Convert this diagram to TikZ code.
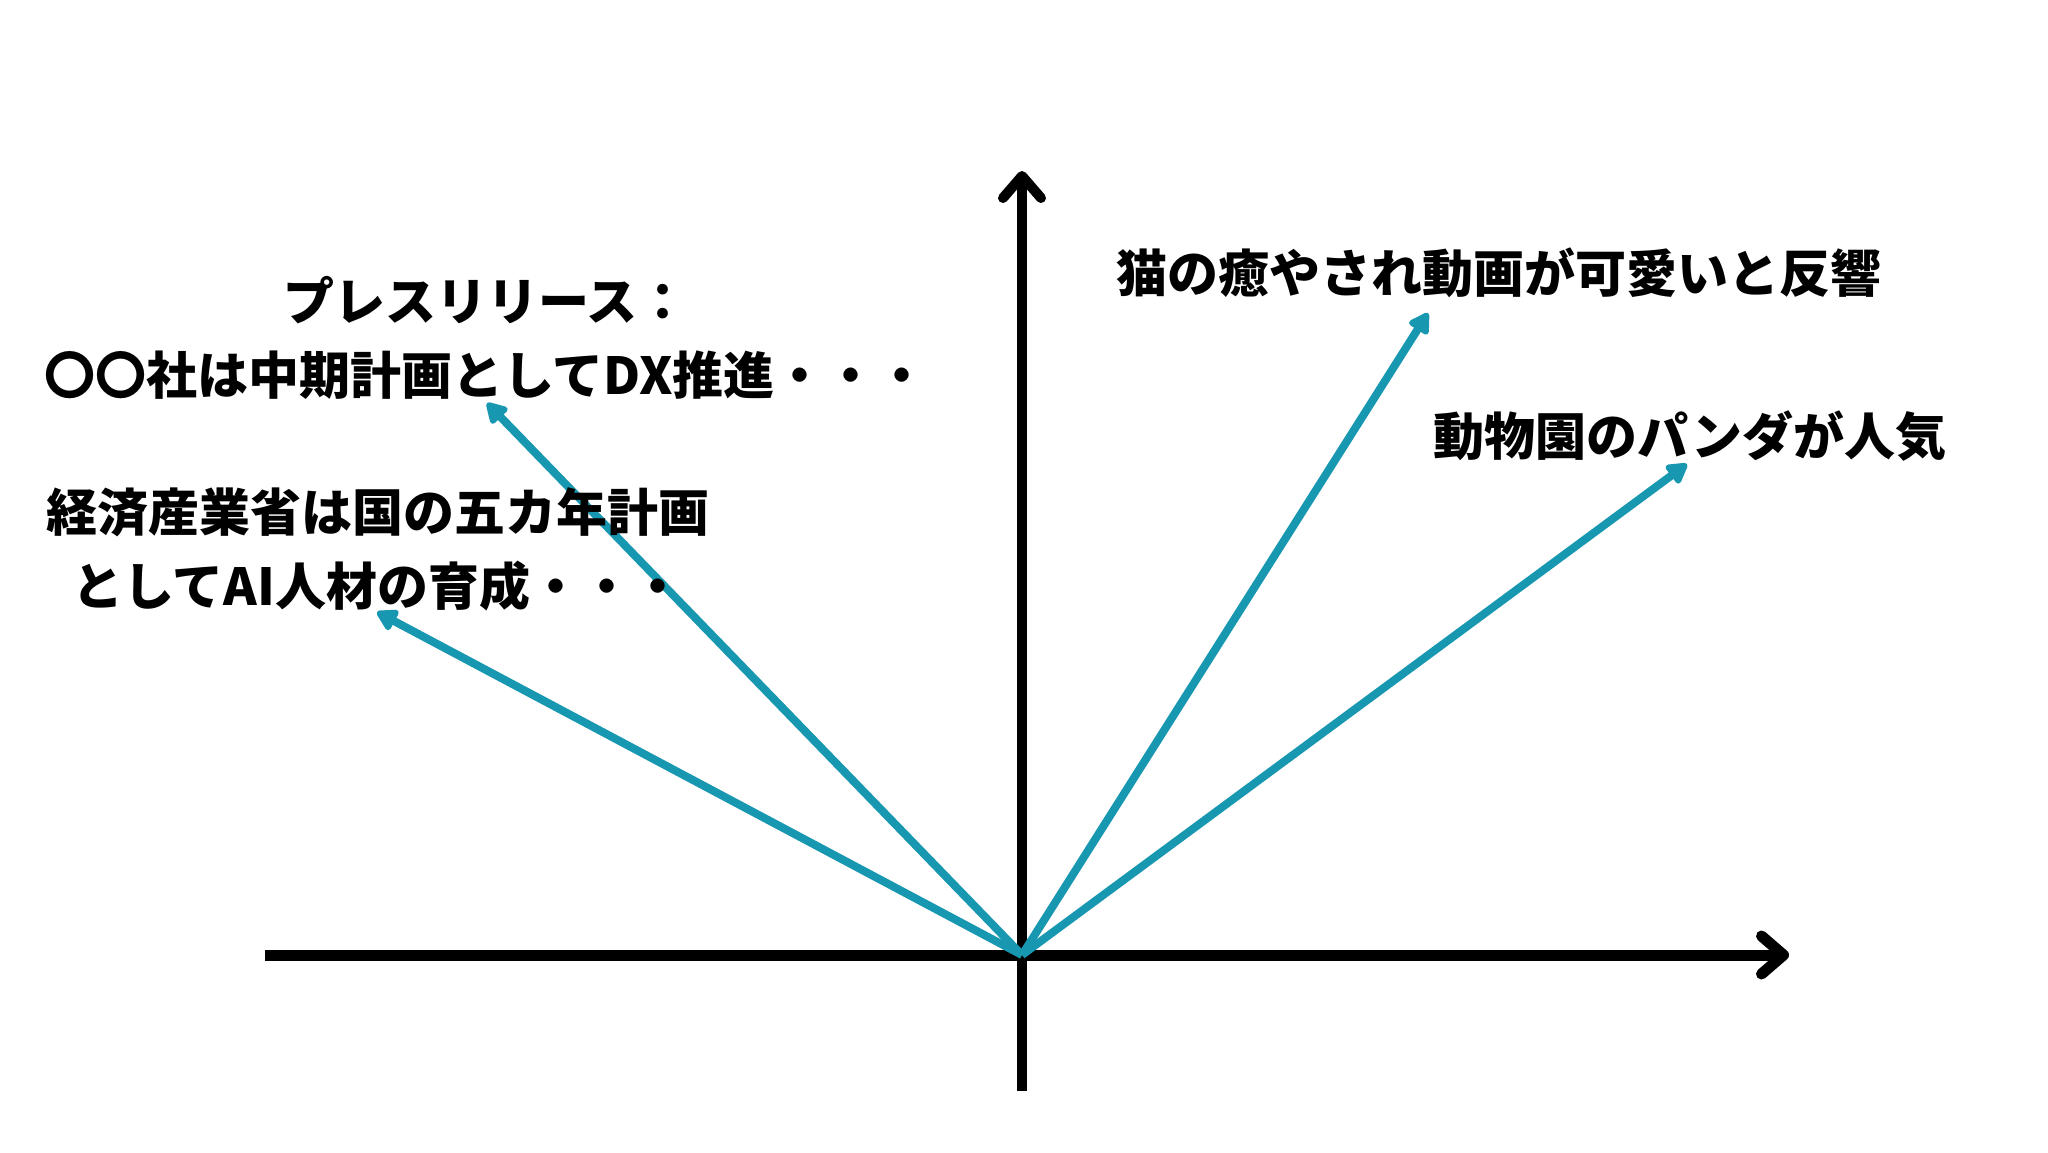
\documentclass[tikz,border=0pt]{standalone}
\usepackage{fontspec}
\setmainfont{Noto Sans CJK JP}
\usetikzlibrary{arrows.meta}
\definecolor{teal1}{RGB}{24,152,176}
\tikzset{
  axis/.style={draw=black, line width=11pt, line cap=round,
    -{Straight Barb[length=22pt,width=38pt,round]}},
  vec/.style={draw=teal1, line width=8pt,
    -{Triangle[length=23pt,width=25pt,round]}},
  lbl/.style={font=\fontsize{51}{74}\selectfont\bfseries, align=center, inner sep=0pt, text=black}
}
\begin{document}
\begin{tikzpicture}[x=1pt,y=-1pt]
\useasboundingbox (0,0) rectangle (2048,1152);
\fill[white] (0,0) rectangle (2048,1152);
% axes
\coordinate (o) at (1022,955);
\coordinate (xl) at (265,955);
\coordinate (xr) at (1789,955);
\coordinate (yb) at (1022,1091);
\coordinate (yt) at (1022,171);
\draw[axis, line cap=butt] (xl) -- (xr);
\draw[axis, line width=10pt, line cap=butt] (yb) -- (yt);
% vector tips
\coordinate (t1) at (487,403);
\coordinate (t2) at (377,612);
\coordinate (t3) at (1428,313);
\coordinate (t4) at (1687,464);
\draw[vec] (o) -- (t1);
\draw[vec] (o) -- (t2);
\draw[vec] (o) -- (t3);
\draw[vec] (o) -- (t4);
% labels
\node[lbl] (press) at (486,338) {プレスリリース：\\〇〇社は中期計画としてDX推進・・・};
\node[lbl] (meti) at (378,549) {経済産業省は国の五カ年計画\\としてAI人材の育成・・・};
\node[lbl] (cat) at (1499,273) {猫の癒やされ動画が可愛いと反響};
\node[lbl] (panda) at (1690,436) {動物園のパンダが人気};
\end{tikzpicture}
\end{document}
